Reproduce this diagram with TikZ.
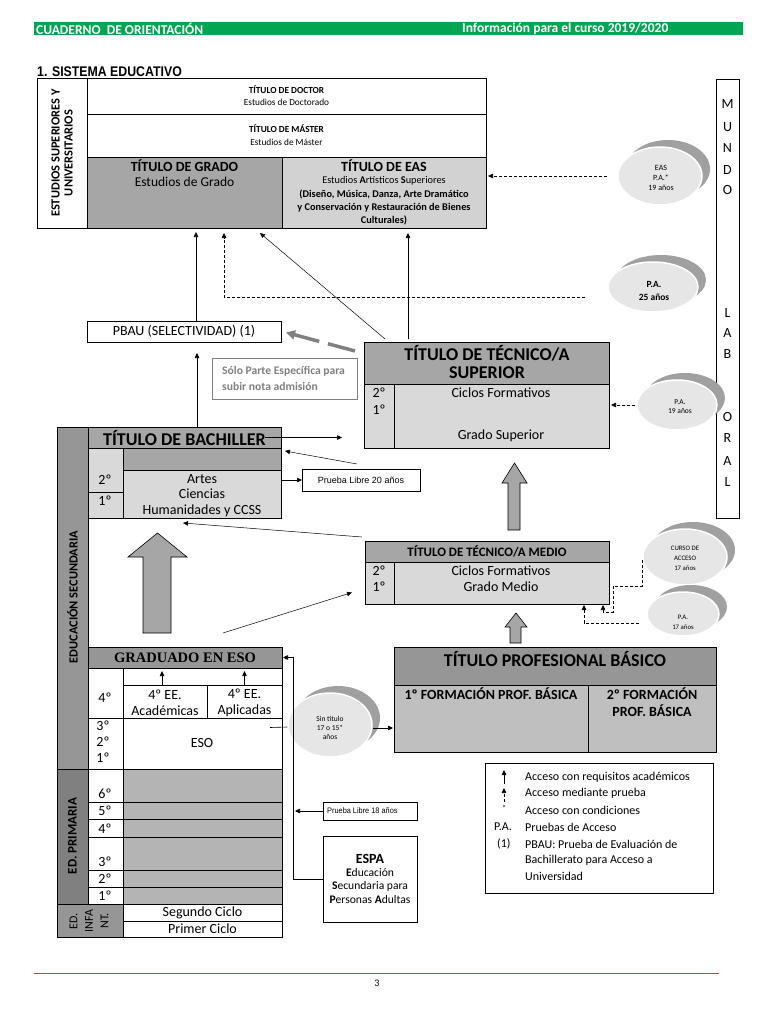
\documentclass[tikz,border=0pt]{standalone}
\usepackage{fontspec}
\setmainfont{Carlito}
\newfontfamily\arialf{Liberation Sans}
\newfontfamily\timesf{Liberation Serif}
\usepackage{graphicx}
\usetikzlibrary{arrows.meta,shapes.geometric,calc}
\definecolor{grn}{RGB}{0,166,81}
\definecolor{hdr}{RGB}{166,166,166}
\definecolor{hdrd}{RGB}{150,150,150}
\definecolor{lite}{RGB}{217,217,217}
\definecolor{easg}{RGB}{210,210,210}
\definecolor{midg}{RGB}{191,191,191}
\definecolor{prig}{RGB}{180,180,180}
\definecolor{barsec}{RGB}{150,150,150}
\definecolor{barpri}{RGB}{128,128,128}
\definecolor{ellf}{RGB}{230,230,230}
\definecolor{ells}{RGB}{160,160,160}
\definecolor{notag}{RGB}{128,128,128}
\newcommand\fs[2]{\fontsize{#1}{#2}\selectfont}
\newcommand\bx[6]{\node[cellbox,fill=#6,minimum width={(#4-#2)*1pt},minimum height={(#5-#3)*1pt},anchor=north west] (#1) at (#2,#3) {};}
\newcommand\ovl[5]{\node[ellsh,minimum width={2*#4*1pt},minimum height={2*#5*1pt}] (#1s) at (#2+8,#3-7) {};\node[ell,minimum width={2*#4*1pt},minimum height={2*#5*1pt}] (#1) at (#2,#3) {};}
\begin{document}
\begin{tikzpicture}[x=1pt,y=-1pt,
 cellbox/.style={draw=black,line width=0.8pt,inner sep=0pt,outer sep=0pt},
 t/.style={inner sep=0pt,align=center},
 arr/.style={line width=0.6pt,-{Triangle[length=5pt,width=4.5pt]}},
 darr/.style={arr,dash pattern=on 3pt off 2pt},
 dline/.style={line width=0.6pt,dash pattern=on 3pt off 2pt},
 ell/.style={ellipse,fill=ellf,draw=white,line width=1.5pt,inner sep=0pt},
 ellsh/.style={ellipse,fill=ells,draw=none,inner sep=0pt},
 blk/.style={draw=black,line width=0.6pt,fill=hdr}]
\fill[white] (0,0) rectangle (768,1024);
\useasboundingbox (0,0) rectangle (768,1024);
% header
\fill[grn] (34,22) rectangle (743,35);
\node[t,anchor=west,text=white,font=\bfseries\fs{13.5}{14}] (h1) at (36,28.5) {CUADERNO\ \ DE ORIENTACIÓN};
\node[t,anchor=west,text=white,font=\bfseries\fs{13.5}{14}] (h2) at (462,28.5) {Información para el curso 2019/2020};
\node[t,anchor=west] (sec) at (37,71.5) {\scalebox{0.88}[1]{\arialf\bfseries\fs{14}{14}1. SISTEMA EDUCATIVO}};
% top box
\bx{estsup}{37}{78}{87}{228}{white}
\bx{doc}{87}{78}{486}{114}{white}
\bx{mas}{87}{114}{486}{157}{white}
\bx{grado}{87}{157}{282}{228}{hdr}
\bx{eas}{282}{157}{486}{228}{easg}
\node[t,rotate=90,font=\bfseries\fs{12.4}{13}] (estT) at (estsup) {ESTUDIOS SUPERIORES Y\\UNIVERSITARIOS};
\node[t,font=\bfseries\fs{9.3}{11}] (docT) at (286.5,90) {TÍTULO DE DOCTOR};
\node[t,font=\fs{9.3}{11}] (docS) at (286.5,102) {Estudios de Doctorado};
\node[t,font=\bfseries\fs{9.3}{11}] (masT) at (286.5,129) {TÍTULO DE MÁSTER};
\node[t,font=\fs{9.3}{11}] (masS) at (286.5,142) {Estudios de Máster};
\node[t,font=\bfseries\fs{14}{16}] (graT) at (184.5,166) {TÍTULO DE GRADO};
\node[t,font=\fs{13.5}{16}] (graS) at (184.5,182) {Estudios de Grado};
\node[t,font=\bfseries\fs{14}{16}] (easT) at (384,166) {TÍTULO DE EAS};
\node[t,font=\fs{10.3}{12}] (easS1) at (384,181) {Estudios \textbf{A}rtísticos \textbf{S}uperiores};
\node[t,font=\bfseries\fs{10.3}{12}] (easS2) at (384,194) {(Diseño, Música, Danza, Arte Dramático};
\node[t,font=\bfseries\fs{10.3}{12}] (easS3) at (384,208) {y Conservación y Restauración de Bienes};
\node[t,font=\bfseries\fs{10.3}{12}] (easS4) at (384,220) {Culturales)};
% mundo laboral
\bx{mundo}{716}{79}{739}{518}{white}
\foreach \l/\yy [count=\i] in {M/104,U/127,N/148,D/170,O/190,L/313,A/333,B/354,O/417,R/438,A/461,L/482}
  \node[t,font=\fs{14}{14}] (ml\i) at (727.5,\yy) {\l};
% ellipses
\ovl{eas19}{660}{176}{42}{29}
\node[t,font=\fs{8}{10}] (eas19T) at (661,178) {EAS\\P.A.*\\19 años};
\ovl{pa25}{653}{287}{45}{25}
\node[t,font=\bfseries\fs{9.5}{13}] (pa25T) at (654,291) {P.A.\\25 años};
\ovl{pa19}{677}{405}{40}{25}
\node[t,font=\fs{7.5}{9}] (pa19T) at (680,407) {P.A.\\19 años};
\ovl{curso}{685}{557}{42}{28}
\node[t,font=\fs{6.8}{10}] (cursoT) at (685,558) {CURSO DE\\ACCESO\\17 años};
\ovl{pa17}{683}{614}{36}{22}
\node[t,font=\fs{6.8}{10}] (pa17T) at (683,622) {P.A.\\17 años};
\ovl{sint}{330}{725}{42}{32}
\node[t,font=\fs{7.5}{9}] (sintT) at (330,728) {Sin título\\17 o 15*\\años};
% PBAU
\bx{pbau}{87}{321}{281}{342}{white}
\node[t,font=\fs{14}{16}] (pbauT) at (pbau) {PBAU (SELECTIVIDAD) (1)};
\node[cellbox,draw=notag,minimum width=145pt,minimum height=41pt,anchor=north west] (nota) at (212,358) {};
\node[t,anchor=west,text=notag,font=\bfseries\fs{11.6}{16}] (notaT1) at (222,371) {Sólo Parte Específica para};
\node[t,anchor=west,text=notag,font=\bfseries\fs{11.6}{16}] (notaT2) at (222,386) {subir nota admisión};
% tecnico superior
\bx{tsuph}{364}{342}{609}{384}{hdr}
\bx{tsupl}{364}{384}{394}{448}{lite}
\bx{tsupb}{394}{384}{609}{448}{lite}
\node[t,font=\bfseries\fs{18}{20}] (tsupT) at (487,353) {TÍTULO DE TÉCNICO/A};
\node[t,font=\bfseries\fs{18}{20}] (tsupT2) at (487,373) {SUPERIOR};
\node[t,font=\fs{14}{16}] (tsup2) at (379,393) {2º};
\node[t,font=\fs{14}{16}] (tsup1) at (379,410) {1º};
\node[t,font=\fs{14}{16}] (tsupC) at (501,393) {Ciclos Formativos};
\node[t,font=\fs{14}{16}] (tsupG) at (501,436) {Grado Superior};
% bachiller
\bx{bachh}{88}{427}{281}{448}{hdr}
\bx{bachs}{123}{448}{281}{470}{hdr}
\bx{bachl2}{88}{448}{123}{492}{lite}
\bx{bachl1}{88}{492}{123}{518}{lite}
\bx{bachb}{123}{470}{281}{518}{lite}
\node[t,font=\bfseries\fs{18}{20}] (bachT) at (184.5,438) {TÍTULO DE BACHILLER};
\node[t,font=\fs{14}{16}] (bach2) at (105,480) {2º};
\node[t,font=\fs{14}{16}] (bach1) at (105,501) {1º};
\node[t,font=\fs{14}{16}] (bachA) at (202,479) {Artes};
\node[t,font=\fs{14}{16}] (bachC) at (202,494) {Ciencias};
\node[t,font=\fs{14}{16}] (bachH) at (202,511) {Humanidades y CCSS};
\bx{pl20}{302}{469}{420}{491}{white}
\node[t,font=\arialf\fs{9}{10}] (pl20T) at (pl20) {Prueba Libre 20 años};
% left bars
\bx{barS}{57}{427}{88}{769}{barsec}
\bx{barP}{57}{769}{88}{904}{barpri}
\bx{barI}{57}{904}{123}{937}{barsec}
\node[t,rotate=90,font=\bfseries\fs{12.4}{14}] (barST) at (72.5,597) {EDUCACIÓN SECUNDARIA};
\node[t,rotate=90,font=\bfseries\fs{13}{14}] (barPT) at (72.5,836) {ED. PRIMARIA};
\node[t,rotate=90,font=\fs{12}{15.5}] (barIT) at (89,921) {ED.\\INFA\\NT.};
% big arrows
\draw[blk] (157.5,533) -- (187,557) -- (171,557) -- (171,633) -- (143,633) -- (143,557) -- (128,557) -- cycle;
\draw[blk] (514.5,463) -- (527,483) -- (520,483) -- (520,530) -- (508,530) -- (508,483) -- (502,483) -- cycle;
\draw[blk] (516,613) -- (527,627) -- (521,627) -- (521,643) -- (510,643) -- (510,627) -- (505,627) -- cycle;
% tecnico medio
\bx{tmedh}{365}{541}{609}{562}{hdr}
\bx{tmedl}{365}{562}{394}{604}{lite}
\bx{tmedb}{394}{562}{609}{604}{lite}
\node[t,font=\bfseries\fs{12.9}{14}] (tmedT) at (487,551.5) {TÍTULO DE TÉCNICO/A MEDIO};
\node[t,font=\fs{14}{16}] (tmed2) at (379,571) {2º};
\node[t,font=\fs{14}{16}] (tmed1) at (379,587) {1º};
\node[t,font=\fs{14}{16}] (tmedC) at (501,571) {Ciclos Formativos};
\node[t,font=\fs{14}{16}] (tmedG) at (501,587) {Grado Medio};
% titulo profesional basico
\bx{tpbh}{394}{647}{716}{685}{hdrd}
\bx{tpbl}{394}{685}{588}{752}{midg}
\bx{tpbr}{588}{685}{716}{752}{midg}
\node[t,font=\bfseries\fs{18}{20}] (tpbT) at (555,659) {TÍTULO PROFESIONAL BÁSICO};
\node[t,font=\bfseries\fs{14}{16}] (tpbL) at (491,694) {1º FORMACIÓN PROF. BÁSICA};
\node[t,font=\bfseries\fs{14}{17}] (tpbR) at (652,702.5) {2º FORMACIÓN\\PROF. BÁSICA};
% ESO
\bx{gradh}{88}{647}{282}{668}{hdrd}
\node[t,font=\timesf\bfseries\fs{14.5}{16}] (gradT) at (185,658) {GRADUADO EN ESO};
\bx{eso4l}{88}{668}{123}{718}{white}
\bx{eso4a}{123}{668}{282}{685}{white}
\bx{ee1}{123}{685}{207}{718}{white}
\bx{ee2}{207}{685}{282}{718}{white}
\bx{esol}{88}{718}{123}{769}{white}
\bx{eso}{123}{718}{282}{769}{white}
\node[t,font=\fs{14}{16}] (eso4) at (105,698) {4º};
\node[t,font=\fs{14}{16}] (ee1T) at (165,703) {4º EE.\\Académicas};
\node[t,font=\fs{14}{16}] (ee2T) at (244.5,703) {4º EE.\\Aplicadas};
\node[t,font=\fs{14}{16}] (eso3) at (103,726) {3º};
\node[t,font=\fs{14}{16}] (eso2) at (103,742) {2º};
\node[t,font=\fs{14}{16}] (eso1) at (103,758) {1º};
\node[t,font=\fs{14}{16}] (esoT) at (202,743) {ESO};
% primaria
\foreach \a/\b/\n [count=\i] in {769/802/6,802/819/5,819/837/4,837/870/3,870/887/2,887/904/1}{
  \bx{pl\i}{88}{\a}{123}{\b}{white}
  \bx{pr\i}{123}{\a}{282}{\b}{prig}
  \node[t,font=\fs{14}{16},anchor=base] (pn\i) at (105,\b-4) {\n º};
}
\bx{inf2}{123}{904}{282}{921}{white}
\bx{inf1}{123}{921}{282}{937}{white}
\node[t,font=\fs{14}{16}] (inf2T) at (inf2) {Segundo Ciclo};
\node[t,font=\fs{14}{16}] (inf1T) at (inf1) {Primer Ciclo};
% ESPA and prueba 18
\bx{pl18}{323}{802}{417}{820}{white}
\node[t,anchor=west,font=\arialf\fs{8}{9}] (pl18T) at (327,811) {\scalebox{0.92}[1]{Prueba Libre 18 años}};
\bx{espa}{323}{836}{417}{922}{white}
\node[t,font=\bfseries\fs{14}{16}] (espaT) at (370,859) {ESPA};
\node[t,font=\fs{11.6}{13.3}] (espaS) at (370,886) {\textbf{E}ducación\\\textbf{S}ecundaria para\\\textbf{P}ersonas \textbf{A}dultas};
% legend
\bx{leg}{485}{763}{713}{893}{white}
\draw[arr] ($(leg.north west)+(19,21)$) -- ($(leg.north west)+(19,7)$);
\draw[darr] ($(leg.north west)+(19,39)$) -- ($(leg.north west)+(19,25)$);
\fill ($(leg.north west)+(19,43)$) circle (0.9pt);
\foreach \s/\yy [count=\i] in {Acceso con requisitos académicos/777,Acceso mediante prueba/793,Acceso con condiciones/810,Pruebas de Acceso/827,PBAU: Prueba de Evaluación de/844,Bachillerato para Acceso a/860,Universidad/876}
  \node[t,anchor=west,font=\fs{12}{14}] (lg\i) at (525,\yy) {\s};
\node[t,anchor=west,font=\fs{12}{14}] (lgPA) at (494,827) {P.A.};
\node[t,anchor=west,font=\fs{12}{14}] (lg1) at (497,844) {(1)};
% connectors
\draw[arr] ($(pbau.north)+(12,0)$) -- ($(grado.south)+(11.5,4)$);
\draw[darr] ($(pa25.west)+(-22,10)$) -| ($(grado.south)+(39.5,5)$);
\draw[arr,line width=0.5pt] ($(tsuph.north west)+(21,-3)$) -- ($(grado.south east)+(-22,5)$);
\draw[arr] ($(tsuph.north west)+(44,-3)$) -- ($(eas.south west)+(126,5)$);
\draw[darr] ($(eas19.west)+(-10,0)$) -- ($(eas.east |- eas19.west)+(2,0)$);
\draw[notag,line width=3.5pt,dash pattern=on 28pt off 9pt,-{Triangle[length=9pt,width=9pt]}] ($(tsuph.north west)+(-9,9)$) -- ($(pbau.east)+(5,1)$);
\draw[arr] ($(bachh.north)+(12.5,0)$) -- ($(pbau.south)+(13,11)$);
\draw[arr] ($(bachh.east)+(-16,0)$) -- ($(tsuph.west |- bachh.east)+(-22,0)$);
\draw[arr,line width=0.5pt] ($(tsupl.south west)+(-7,16)$) -- ($(bachs.north east)+(4,3)$);
\draw[arr] (bachb.east |- pl20.west) -- (pl20.west);
\draw[arr,line width=0.5pt] ($(tmedh.north west)+(-3,-4)$) -- ($(bachb.south)+(-19,5)$);
\draw[arr,line width=0.5pt] ($(gradh.north)+(38,-14)$) -- ($(tmedh.west)+(-13,41)$);
\draw[dline] ($(curso.west)+(0,3)$) |- ($(tmedb.south east)+(4,-18)$) |- ($(tmedb.south east)+(-6,8)$);
\draw[arr] ($(tmedb.south east)+(-6,9)$) -- ($(tmedb.south east)+(-6,1)$);
\draw[darr] ($(pa17.west)+(-7,9)$) -| ($(tmedl.south west)+(219,1)$);
\draw[arr] ($(sint.east)+(0,3)$) -- ($(tpbl.west)+(-1,9.5)$);
\draw[line width=0.6pt] ($(eso.east)+(-12,-16)$) -- ($(sint.west)+(0,2)$);
\draw[arr] (espa.west) -- ($(espa.west)+(-30,0)$) |- ($(gradh.east)+(1,0)$);
\draw[arr] (pl18.west) -- ($(pl18.west)+(-28,0)$);
\draw[arr] ($(ee1.north)+(-3,0)$) -- ($(ee1.north)+(-3,-14)$);
\draw[arr] (ee2.north) -- ($(ee2.north)+(0,-14)$);
\draw[darr] ($(pa19.west)+(-1,0)$) -- ($(tsupb.east |- pa19.west)+(2,0)$);
% footer
\draw[grn,line width=1pt] (34,973) -- (719,973);
\node[t,font=\fs{10}{12}] (pg) at (377,983) {3};
\end{tikzpicture}
\end{document}
